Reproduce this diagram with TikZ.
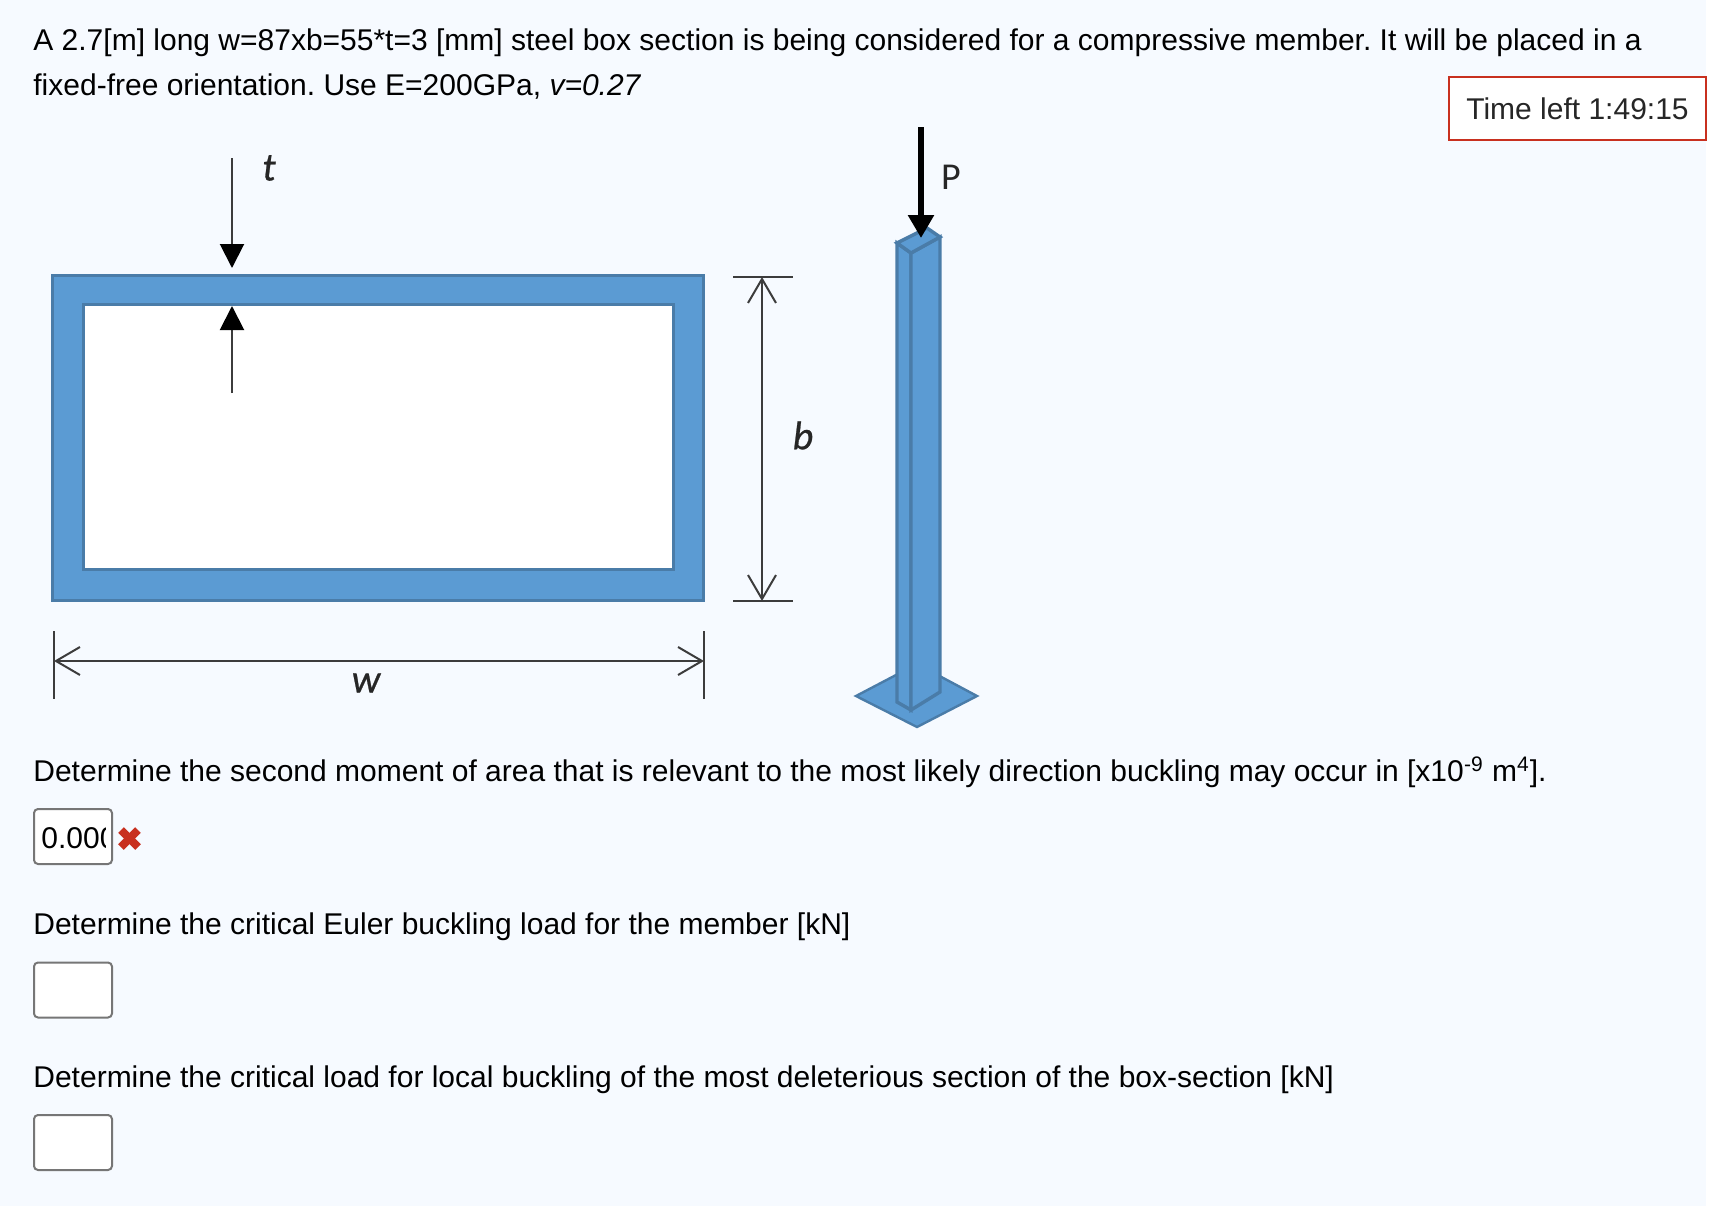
\documentclass[tikz,border=0pt]{standalone}
\usepackage{fontspec}
\setmainfont{Liberation Sans}
\newfontfamily\labelfont[ItalicFeatures={FakeBold=0.6}]{Carlito}
\usetikzlibrary{arrows.meta}
\definecolor{pagebg}{HTML}{F6FAFF}
\definecolor{boxblue}{HTML}{5B9BD3}
\definecolor{edgeblue}{HTML}{4A7CA8}
\definecolor{dimgrey}{HTML}{3C3C3C}
\definecolor{timered}{HTML}{C8301F}
\definecolor{inputgrey}{HTML}{767676}
\frenchspacing
\tikzset{
	txt/.style={anchor=base west, inner sep=0pt, font=\fontsize{15}{18}\selectfont, text=black},
	dimlabel/.style={inner sep=0pt, font=\labelfont\fontsize{20}{24}\selectfont\itshape, text=black!85},
	inputbox/.style={draw=inputgrey, fill=white, line width=1pt, rounded corners=2pt, minimum width=39pt, minimum height=27.5pt, inner sep=0pt},
	timebox/.style={draw=timered, fill=white, line width=1pt, minimum width=128.5pt, minimum height=31.5pt, inner sep=0pt, font=\fontsize{15}{18}\selectfont, text=black!85},
	steel/.style={fill=boxblue, draw=edgeblue, line width=1.5pt, line join=miter},
	dimline/.style={draw=dimgrey, line width=.9pt},
	dimarrow/.style={dimline, {Straight Barb[length=12pt,width=14pt,line width=1pt]}-{Straight Barb[length=12pt,width=14pt,line width=1pt]}},
	tarrow/.style={draw=dimgrey, line width=1pt, -{Triangle[length=12pt,width=12pt,color=black]}},
	parrow/.style={draw=black, line width=2.8pt, -{Triangle[length=11.5pt,width=12.5pt]}}
}
\begin{document}
\begin{tikzpicture}[x=.5pt,y=-.5pt]
	\useasboundingbox (0,0) rectangle (1720,1206);
	\fill[white] (0,0) rectangle (1720,1206);
	\fill[pagebg] (0,0) rectangle (1706,1206);
	%%%%%%%%%%%%%%%%%%%%%%%%%%%%%%%%
	\node[txt] (introa) at (33,50){A 2.7[m] long w=87xb=55*t=3 [mm] steel box section is being considered for a compressive member. It will be placed in a};
	\node[txt] (introb) at (33,95){fixed-free orientation. Use E=200GPa, \textit{v=0.27}};
	\node[timebox] (timeleft) at (1577.5,108.5){Time left 1:49:15};
	%%%%%%%%%%%%%%%%%%%%%%%%%%%%%%%%
	\draw[steel] (52,275) rectangle (703,600);
	\draw[fill=white, draw=edgeblue, line width=1.5pt] (83,304) rectangle (673,569);
	\coordinate (ttop) at (232,158);
	\coordinate (ttip) at (232,268);
	\coordinate (bbot) at (232,393);
	\coordinate (btip) at (232,306);
	\draw[tarrow] (ttop)--(ttip);
	\draw[tarrow] (bbot)--(btip);
	\node[dimlabel] (tlabel) at (269,168){t};
	%%%%%%%%%%%%%%%%%%%%%%%%%%%%%%%%
	\coordinate (btop) at (762,277);
	\coordinate (bend) at (762,601);
	\draw[dimarrow] (btop)--(bend);
	\draw[dimline] (733,277)--(793,277);
	\draw[dimline] (733,601)--(793,601);
	\node[dimlabel] (blabel) at (803,435.5){b};
	\coordinate (wleft) at (54,661);
	\coordinate (wright) at (704,661);
	\draw[dimarrow] (wleft)--(wright);
	\draw[dimline] (54,631)--(54,699);
	\draw[dimline] (704,631)--(704,699);
	\node[dimlabel] (wlabel) at (366,683){w};
	%%%%%%%%%%%%%%%%%%%%%%%%%%%%%%%%
	\draw[steel, line width=1.2pt] (856,696)--(917,664)--(977,696)--(917,727)--cycle;
	\draw[steel, line width=1.7pt] (897,243)--(911,253)--(911,710)--(897,702)--cycle;
	\draw[steel, line width=1.7pt] (911,253)--(940,237)--(940,692)--(911,710)--cycle;
	\draw[steel, line width=1.7pt] (897,243)--(927,228)--(940,237)--(911,253)--cycle;
	\coordinate (ptop) at (921,127);
	\coordinate (ptip) at (921,238);
	\draw[parrow] (ptop)--(ptip);
	\node[dimlabel, font=\labelfont\fontsize{19}{24}\selectfont] (plabel) at (951,177){P};
	%%%%%%%%%%%%%%%%%%%%%%%%%%%%%%%%
	\node[txt] (qone) at (33,781.5){Determine the second moment of area that is relevant to the most likely direction buckling may occur in [x10\textsuperscript{-9} m\textsuperscript{4}].};
	\node[inputbox] (ansone) at (73,836.5){};
	\begin{scope}
		\clip (34,809) rectangle (105,865);
		\node[txt] (ansonetext) at (41,848){0.000};
	\end{scope}
	\draw[timered, line width=4pt] (121,830)--(138,847);
	\draw[timered, line width=4pt] (121,847)--(138,830);
	\node[txt] (qtwo) at (33,934.5){Determine the critical Euler buckling load for the member [kN]};
	\node[inputbox] (anstwo) at (73,990){};
	\node[txt] (qthree) at (33,1087.5){Determine the critical load for local buckling of the most deleterious section of the box-section [kN]};
	\node[inputbox] (ansthree) at (73,1142.5){};
\end{tikzpicture}
\end{document}
